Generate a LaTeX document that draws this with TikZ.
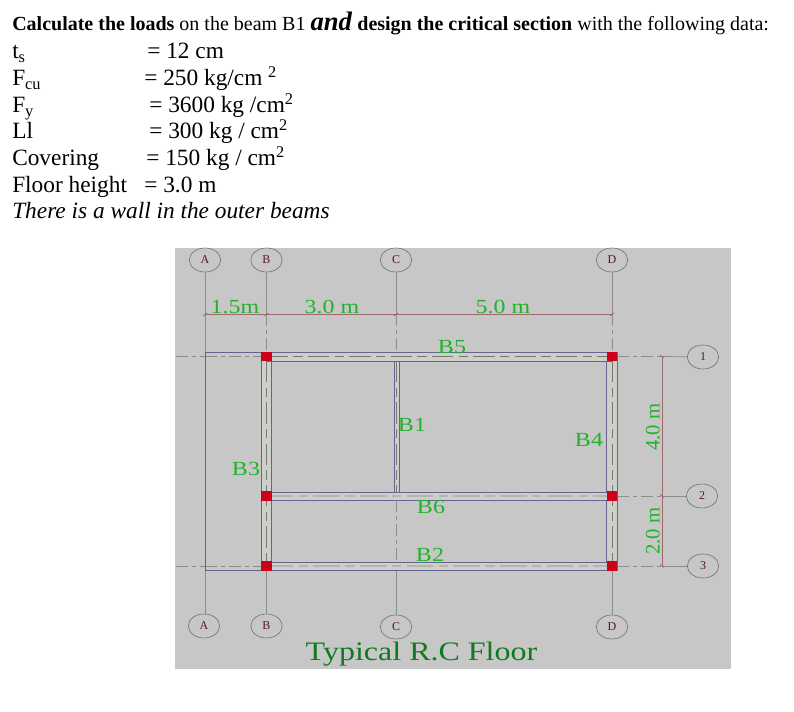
\documentclass[tikz,border=0pt]{standalone}
\usepackage{fontspec}
\usepackage{graphicx}
\setmainfont{Liberation Serif}
\newfontfamily\widefont[FakeStretch=1.2]{Liberation Serif}
\usetikzlibrary{shapes.geometric}
\definecolor{bgc}{HTML}{C7C7C7}
\definecolor{beamc}{HTML}{CFCFCA}
\definecolor{edgec}{HTML}{64648C}
\definecolor{gridc}{HTML}{8C8C8C}
\definecolor{dimc}{HTML}{9C6A6A}
\definecolor{lab}{HTML}{22B22C}
\definecolor{ttl}{HTML}{0F7A1E}
\definecolor{colr}{HTML}{CC0018}
\definecolor{bub}{HTML}{5A1530}
\tikzset{
 txt/.style={anchor=base west,inner sep=0pt,font=\fontsize{17.5}{18}\selectfont,text=black},
 bubble/.style={draw=gridc!80!black,line width=.45pt,ellipse,minimum width=23.5pt,minimum height=18pt,inner sep=0pt,text=bub,font=\fontsize{9}{9}\selectfont},
 gridsolid/.style={draw=gridc,line width=.55pt},
 griddash/.style={draw=gridc,line width=.55pt,dash pattern=on 9pt off 3pt on 3pt off 3pt},
 griddashl/.style={draw=gridc!85!black,line width=.5pt,dash pattern=on 16pt off 4pt on 7pt off 4pt},
 griddashw/.style={draw=white!35!gridc,line width=.9pt,dash pattern=on 20pt off 4pt on 7pt off 4pt},
 beam/.style={draw=edgec,fill=beamc,line width=.7pt},
 beamth/.style={draw=edgec,line width=.7pt},
 column/.style={fill=colr,draw=none,minimum width=8.2pt,minimum height=6.8pt,inner sep=0pt},
 dimline/.style={draw=dimc,line width=.6pt},
 tick/.style={draw=dimc,line width=.6pt},
 lbl/.style={inner sep=0pt,text=lab,font=\widefont\fontsize{15}{15}\selectfont},
 lblv/.style={inner sep=0pt,text=lab,rotate=90,font=\fontsize{15.5}{15}\selectfont},
}
\begin{document}
\begin{tikzpicture}[x=.75pt,y=-.75pt]
\useasboundingbox (0,0) rectangle (794,712);
% problem text
\node[txt,font=\fontsize{15}{15}\selectfont] (head) at (12,31) {\textbf{Calculate the loads} on the beam B1 {\fontsize{20}{20}\selectfont\bfseries\itshape and} \textbf{design the critical section} with the following data:};
\node[txt] (k1) at (12,59) {t\textsubscript{s}};
\node[txt] (v1) at (147,59) {= 12 cm};
\node[txt] (k2) at (12,86) {F\textsubscript{cu}};
\node[txt] (v2) at (144,86) {= 250 kg/cm \textsuperscript{2}};
\node[txt] (k3) at (12,113) {F\textsubscript{y}};
\node[txt] (v3) at (149,113) {= 3600 kg /cm\textsuperscript{2}};
\node[txt] (k4) at (12,139) {Ll};
\node[txt] (v4) at (149,139) {= 300 kg / cm\textsuperscript{2}};
\node[txt] (k5) at (12,166) {Covering};
\node[txt] (v5) at (146,166) {= 150 kg / cm\textsuperscript{2}};
\node[txt] (k6) at (12,193) {Floor height};
\node[txt] (v6) at (144,193) {= 3.0 m};
\node[txt] (k7) at (12,219) {\itshape There is a wall in the outer beams};
% background
\fill[bgc] (175,248) rectangle (731,669);
% bubbles
\node[bubble] (At) at (205,260) {A};
\node[bubble] (Bt) at (266.5,260) {B};
\node[bubble] (Ct) at (396,260) {C};
\node[bubble] (Dt) at (612,260) {D};
\node[bubble] (Ab) at (204,626) {A};
\node[bubble] (Bb) at (266.5,626) {B};
\node[bubble] (Cb) at (396,627) {C};
\node[bubble] (Db) at (612,627) {D};
\node[bubble] (R1) at (703,357) {1};
\node[bubble] (R2) at (702,496) {2};
\node[bubble] (R3) at (703,566) {3};
% key points
\coordinate (dA) at (205,314.5);
\coordinate (dB) at (266.5,314.5);
\coordinate (dC) at (396,314.5);
\coordinate (dD) at (612,314.5);
\coordinate (d1) at (662,356.5);
\coordinate (d2) at (662,496);
\coordinate (d3) at (662,566);
\coordinate (L1) at (176,356.5);
\coordinate (L3) at (176,566);
\coordinate (M1) at (205,356.5);
\coordinate (M3) at (205,566);
\coordinate (N1) at (262,356.5);
\coordinate (N3) at (262,566);
\coordinate (tA) at (205,352);
\coordinate (bA) at (205,570);
\coordinate (tB) at (266.5,352);
\coordinate (bB) at (266.5,570);
\coordinate (tC) at (396,352);
\coordinate (bC) at (396,570);
\coordinate (tD) at (612,352);
\coordinate (bD) at (612,570);
\coordinate (e1) at (617,356.5);
\coordinate (e2) at (617,496);
\coordinate (e3) at (617,566);
% grid outside the frame
\draw[griddash] (L1) -- (M1);
\draw[griddash] (L3) -- (M3);
\draw[griddash] (M1) -- (N1);
\draw[griddash] (M3) -- (N3);
\draw[gridsolid] (At) -- (tA);
\draw[griddash] (dB) -- (tB);
\draw[griddash] (dC) -- (tC);
\draw[griddash] (dD) -- (tD);
\draw[gridsolid] (Bt) -- (dB);
\draw[gridsolid] (Ct) -- (dC);
\draw[gridsolid] (Dt) -- (dD);
\draw[gridsolid] (bA) -- (bA |- Ab.north);
\draw[gridsolid] (Bb) -- (bB);
\draw[gridsolid] (Cb) -- (bC);
\draw[gridsolid] (Db) -- (bD);
\draw[griddash] (e1) -- (d1);
\draw[griddash] (e2) -- (d2);
\draw[griddash] (e3) -- (d3);
\draw[gridsolid] (d1) -- (R1);
\draw[gridsolid] (d2) -- (R2);
\draw[gridsolid] (d3) -- (R3);
% wall frame on the A side
\draw[beamth] (tA) -- (bA);
\draw[beamth] (tA) -- (tB);
\draw[beamth] (bA) -- (bB);
% beams
\path[beam] (261.5,352) rectangle (271.5,570);
\path[beam] (606.5,352) rectangle (617,570);
\path[beam] (394,361) rectangle (399,492);
\path[beam] (266,352) rectangle (612,361);
\path[beam] (266,492) rectangle (612,500);
\path[beam] (266,562) rectangle (612,570);
\draw[griddashl] (266.5,356.5) -- (612,356.5);
\draw[griddashw] (266.5,496) -- (612,496);
\draw[griddashw] (266.5,566) -- (612,566);
\draw[griddashl] (266.5,361) -- (266.5,562);
\draw[griddashl] (612,361) -- (612,562);
\draw[griddashl] (396,361) -- (396,492);
\draw[griddash] (396,500) -- (396,562);
% columns
\node[column] (c1) at (266.5,356.5) {};
\node[column] (c2) at (266.5,496) {};
\node[column] (c3) at (266.5,566) {};
\node[column] (c4) at (612,356.5) {};
\node[column] (c5) at (612,496) {};
\node[column] (c6) at (612,566) {};
% dimension lines
\draw[dimline] (dA) -- (dD);
\draw[dimline] (d1) -- (d3);
\foreach \p in {dA,dB,dC,dD}{\draw[tick] (\p) ++(-2,1.5) -- ++(4,-3);}
\foreach \p in {d1,d2,d3}{\draw[tick] (\p) ++(-2,-1.5) -- ++(4,3);}
% labels
\node[lbl] (t15) at (235,307) {1.5m};
\node[lbl] (t30) at (332,307) {3.0 m};
\node[lbl] (t50) at (503,307) {5.0 m};
\node[lbl] (b5) at (452,347) {B5};
\node[lbl] (b1) at (412,425) {B1};
\node[lbl] (b4) at (589,440) {B4};
\node[lbl] (b3) at (246,469) {B3};
\node[lbl] (b6) at (431,507) {B6};
\node[lbl] (b2) at (430,555) {B2};
\node[lblv] (t40) at (653,427) {4.0 m};
\node[lblv] (t20) at (653,531) {2.0 m};
\node[inner sep=0pt,anchor=base,text=ttl,font=\widefont\fontsize{20}{20}\selectfont] (title) at (421.5,661) {Typical R.C Floor};
\end{tikzpicture}
\end{document}
